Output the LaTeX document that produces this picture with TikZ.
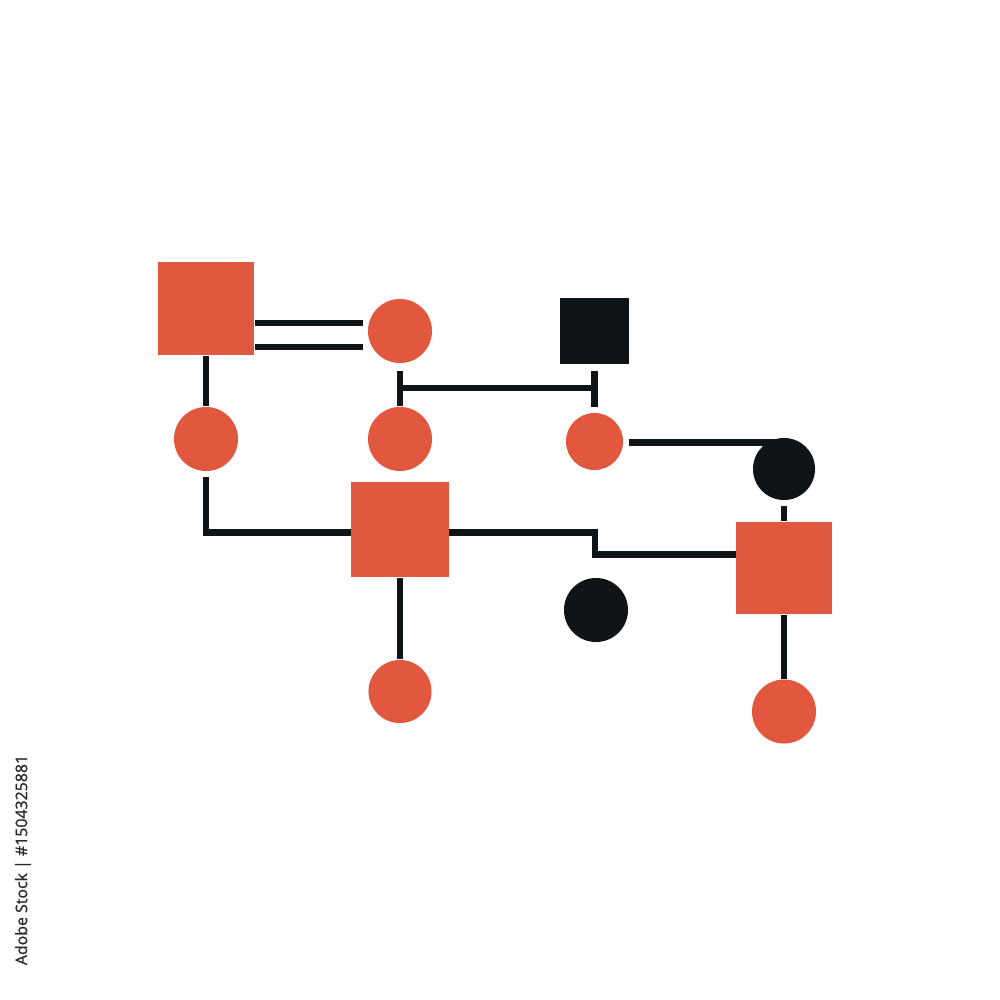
\documentclass[tikz,border=0pt]{standalone}
\usepackage{fontspec}
\usepackage{graphicx}
\newfontfamily\wmfont[FakeBold=1.2]{Open Sans}
\usetikzlibrary{calc,backgrounds}
\definecolor{orng}{HTML}{E2583E}
\definecolor{ink}{HTML}{111417}
\definecolor{wmgray}{HTML}{2A2A2A}
\begin{document}
\begin{tikzpicture}[x=0.01cm,y=-0.01cm,
  link/.style={draw=ink,line width=0.065cm,line cap=butt,line join=miter},
  osq/.style={rectangle,fill=orng,draw=none,inner sep=0pt},
  ksq/.style={rectangle,fill=ink,draw=none,inner sep=0pt},
  ocirc/.style={circle,fill=orng,draw=none,inner sep=0pt},
  kcirc/.style={circle,fill=ink,draw=none,inner sep=0pt}]
\useasboundingbox (0,0) rectangle (1000,1000);
% nodes
\node[osq,minimum width=0.96cm,minimum height=0.93cm] (sqA) at (206,308.5) {};
\node[ocirc,minimum size=0.64cm] (cB) at (400,331) {};
\node[ocirc,minimum size=0.64cm] (cL) at (206,439) {};
\node[ocirc,minimum size=0.64cm] (cM) at (400,439) {};
\node[ksq,minimum width=0.69cm,minimum height=0.65cm] (sqK) at (594.5,331) {};
\node[ocirc,minimum size=0.57cm] (cR) at (594.5,441.5) {};
\node[kcirc,minimum size=0.62cm] (cK) at (784,469) {};
\node[osq,minimum width=0.95cm,minimum height=0.92cm] (sqR) at (784,568) {};
\node[osq,minimum width=0.97cm,minimum height=0.95cm] (sqM) at (400,529.5) {};
\node[kcirc,minimum size=0.64cm] (cK2) at (596,610) {};
\node[ocirc,minimum size=0.63cm] (cBM) at (400,691.5) {};
\node[ocirc,minimum size=0.64cm] (cBR) at (784,711.5) {};
\coordinate (b1) at (400,388);
\coordinate (b2) at (594.5,388);
\coordinate (r1) at ($(cR.east)+(5,1)$);
% connectors
\begin{scope}[on background layer]
\fill[white] (0,0) rectangle (1000,1000);
\draw[link] ($(sqA.east)+(0,14.5)$) -- ($(cB.west)+(-4,-8)$);
\draw[link] ($(sqA.east)+(0,38.5)$) -- ($(cB.west)+(-4,16)$);
\draw[link] (sqA.south) -- (cL.north);
\draw[link] ($(cB.south)+(0,7)$) -- (cM.north);
\draw[link] (b1) -- (b2);
\draw[link] ($(sqK.south)+(0,7)$) -- ($(cR.north)+(0,-5)$);
\draw[link] (r1) -- (r1 -| cK.north);
\draw[link] ($(cK.south)+(0,5)$) -- (sqR.north);
\draw[link] ($(cL.south)+(0,5)$) |- ($(sqM.west)+(0,3)$);
\draw[link] ($(sqM.east)+(0,3)$) -| ($(sqM.east)+(146,3)$) |- ($(sqR.west)+(0,-13.5)$);
\draw[link] (sqM.south) -- (cBM.north);
\draw[link] (sqR.south) -- (cBR.north);
\end{scope}
% vertical credit text
\node[rotate=90,text=wmgray,inner sep=0pt] (wm) at (23,860)
  {\resizebox{2.1cm}{!}{\wmfont Adobe Stock | \#1504325881}};
\end{tikzpicture}
\end{document}
